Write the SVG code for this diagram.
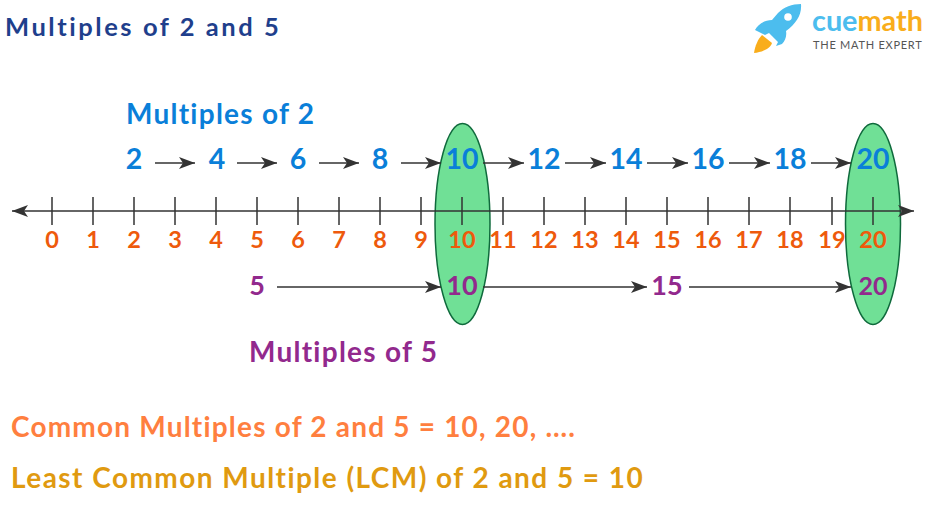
<svg xmlns="http://www.w3.org/2000/svg" width="926" height="513" viewBox="0 0 926 513">
<style>
text{font-family:"Lato","Noto Sans",sans-serif;font-weight:700}
.m{text-anchor:middle}
.b{fill:#0a7fd9;font-size:28.5px}
.o{fill:#ee5a0c;font-size:23.5px}
.p{fill:#92298d}
.c{stroke:#333;stroke-width:1.5;fill:none;marker-end:url(#a)}
.t{stroke:#333;stroke-width:1.5}
.e{fill:#70e096;stroke:#0f6a3c;stroke-width:1.5}
</style>
<defs>
<marker id="a" markerUnits="userSpaceOnUse" markerWidth="18" markerHeight="14" refX="16" refY="7" orient="auto-start-reverse"><path d="M0 1L16 7L0 13L4 7Z" fill="#333"/></marker>
</defs>
<rect width="926" height="513" fill="#fff"/>
<text id="title" x="5" y="36" font-size="25.5" letter-spacing="2.55" fill="#1f3f8c">Multiples of 2 and 5</text>
<g id="logo">
<path d="M801 4C792 4 784 7 778 13L772 20C765 20 758 24 755 30L765 35L769 33L778 42L776 46L782 44C785 41 787 36 786 31C796 24 802 15 801 4Z" fill="#4cbdee"/>
<path d="M762 35L772 43C770 49 762 52 754 53C755 46 758 39 762 35Z" fill="#f9ad1b"/>
<circle cx="788" cy="17" r="3.8" fill="#fff"/>
<text x="812" y="31" font-size="28.8" fill="#4cbdee">cue<tspan fill="#f9ad1b">math</tspan></text>
<text x="813" y="49" font-size="11" letter-spacing=".75" style="font-weight:400" fill="#555">THE MATH EXPERT</text>
</g>
<g id="ellipse-10"><ellipse class="e" cx="462.5" cy="224" rx="27.5" ry="100.5"/></g>
<g id="ellipse-20"><ellipse class="e" cx="873" cy="224" rx="27.5" ry="100.5"/></g>
<g id="connectors">
<path class="c" d="M455 211H12"/>
<path class="c" d="M455 211H914"/>
<path class="c" d="M155 163H195"/><path class="c" d="M237 163H277"/><path class="c" d="M319 163H359"/><path class="c" d="M401 163H441"/><path class="c" d="M483 163H524"/><path class="c" d="M565 163H606"/><path class="c" d="M647 163H688"/><path class="c" d="M729 163H770"/><path class="c" d="M811 163H851"/>
<path class="c" d="M277 287H441"/><path class="c" d="M483 287H647"/><path class="c" d="M689 287H851"/>
</g>
<g id="ticks">
<path class="t" d="M52 197V225M93 197V225M134 197V225M175 197V225M216 197V225M257 197V225M298 197V225M339 197V225M380 197V225M421 197V225M462 197V225M503 197V225M544 197V225M585 197V225M626 197V225M667 197V225M708 197V225M749 197V225M790 197V225M832 197V225M873 197V225"/>
</g>
<g id="number-labels">
<text class="o m" x="52" y="248">0</text><text class="o m" x="93" y="248">1</text><text class="o m" x="134" y="248">2</text><text class="o m" x="175" y="248">3</text><text class="o m" x="216" y="248">4</text><text class="o m" x="257" y="248">5</text><text class="o m" x="298" y="248">6</text><text class="o m" x="339" y="248">7</text><text class="o m" x="380" y="248">8</text><text class="o m" x="421" y="248">9</text><text class="o m" x="462" y="248">10</text><text class="o m" x="503" y="248">11</text><text class="o m" x="544" y="248">12</text><text class="o m" x="585" y="248">13</text><text class="o m" x="626" y="248">14</text><text class="o m" x="667" y="248">15</text><text class="o m" x="708" y="248">16</text><text class="o m" x="749" y="248">17</text><text class="o m" x="790" y="248">18</text><text class="o m" x="832" y="248">19</text><text class="o m" x="873" y="248">20</text>
</g>
<g id="multiples-2">
<text x="126" y="124" font-size="28" letter-spacing="1.25" fill="#0a7fd9">Multiples of 2</text>
<text class="b m" x="134" y="169">2</text><text class="b m" x="217" y="169">4</text><text class="b m" x="298" y="169">6</text><text class="b m" x="380" y="169">8</text><text class="b m" x="462" y="169">10</text><text class="b m" x="544" y="169">12</text><text class="b m" x="626" y="169">14</text><text class="b m" x="708" y="169">16</text><text class="b m" x="790" y="169">18</text><text class="b m" x="873" y="169">20</text>
</g>
<g id="multiples-5">
<text class="p m" x="257" y="295" font-size="27">5</text><text class="p m" x="462" y="295" font-size="27">10</text><text class="p m" x="667" y="295" font-size="27">15</text><text class="p m" x="873" y="295" font-size="25">20</text>
<text class="p" x="249" y="362" font-size="28" letter-spacing="1.25">Multiples of 5</text>
</g>
<text id="common" x="11" y="437" font-size="28" letter-spacing="1.2" fill="#ff7f3f">Common Multiples of 2 and 5 = 10, 20, ….</text>
<text id="lcm" x="11" y="488" font-size="28" letter-spacing="1.45" fill="#e09a10">Least Common Multiple (LCM) of 2 and 5 = 10</text>
</svg>
